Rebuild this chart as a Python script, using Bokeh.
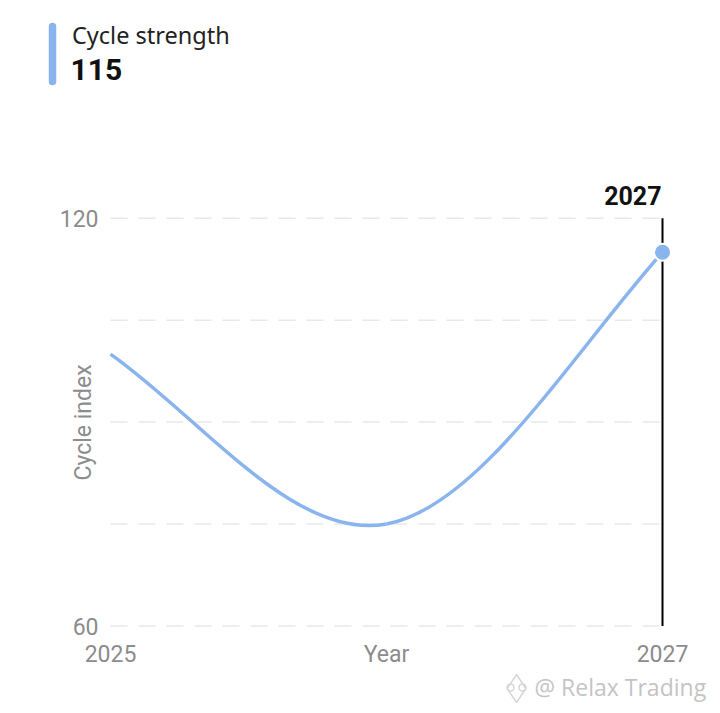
from bokeh.plotting import figure
from bokeh.models import Range1d, FixedTicker, Label
from bokeh.layouts import column
from bokeh.embed import file_html
from bokeh.resources import INLINE

# ---------------- data ----------------
years = [2025, 2026, 2027]
cycle = [100, 75, 115]
y_ticks = [60, 120]
grid_levels = [60, 75, 90, 105, 120]
header_title = "Cycle strength"
x_label = "Year"
y_label = "Cycle index"
watermark = "@ Relax Trading"

# ---------------- styles / layout (page px) ----------------
FONT = "Roboto"
BLUE = "#8AB4EE"
GRAY = "#8c8c8c"
W = 720
HEAD_H = 170                      # header figure: 0 .. 170
MAIN_TOP, MAIN_BOT = 170, 672     # main figure
FOOT_H = 41                       # footer figure: 672 .. 713
FRAME_L = 100
FRAME_T, FRAME_B = 210, 634       # main plot frame (page px)
X_FIRST_PX, X_LAST_PX = 110, 662  # page px of first / last year
Y_TOP_PX, Y_BOT_PX = 217.7, 625.5 # page px of 120 / 60

MAIN_H = MAIN_BOT - MAIN_TOP
kx = (years[-1] - years[0]) / (X_LAST_PX - X_FIRST_PX)
ky = (y_ticks[-1] - y_ticks[0]) / (Y_BOT_PX - Y_TOP_PX)
x_start = years[0] - (X_FIRST_PX - FRAME_L) * kx
x_end = x_start + (W - FRAME_L) * kx
y_end = y_ticks[-1] + (Y_TOP_PX - FRAME_T) * ky
y_start = y_ticks[0] - (FRAME_B - Y_BOT_PX) * ky


def px_fig(w, h):
    f = figure(width=w, height=h, output_backend="svg", toolbar_location=None,
               x_range=Range1d(0, w), y_range=Range1d(h, 0), min_border=0,
               x_axis_type=None, y_axis_type=None)
    f.outline_line_color = None
    f.xgrid.visible = False
    f.ygrid.visible = False
    f.frame_align = False
    return f


# ---------------- header ----------------
head = px_fig(W, HEAD_H)
head.segment(x0=[52], x1=[52], y0=[26], y1=[81], line_color=BLUE,
             line_width=7.5, line_cap="round")
head.add_layout(Label(x=71.5, y=34, text=header_title,
                      text_baseline="alphabetic", text_font="Noto Sans",
                      text_font_size="23.5px", text_color="#222222"))
head.add_layout(Label(x=70, y=69, text=str(cycle[-1]),
                      text_baseline="alphabetic", text_font=FONT,
                      text_font_size="30px", text_font_style="bold",
                      text_color="#111111"))

# ---------------- main chart ----------------
p = figure(width=W, height=MAIN_H, output_backend="svg", toolbar_location=None,
           x_range=Range1d(x_start, x_end), y_range=Range1d(y_start, y_end),
           min_border_left=FRAME_L, min_border_right=0,
           min_border_top=FRAME_T - MAIN_TOP,
           min_border_bottom=MAIN_BOT - FRAME_B)
p.frame_align = False
p.outline_line_color = None
p.background_fill_color = "white"
p.border_fill_color = "white"
p.xgrid.visible = False
p.ygrid.visible = False

# selected year shown above the hover line (as the plot title)
p.title.text = str(years[-1])
p.title.align = "right"
p.title.offset = W - (X_LAST_PX - 1)
p.title.standoff = 12
p.title.text_font = FONT
p.title.text_font_size = "25px"
p.title.text_font_style = "bold"
p.title.text_color = "#111111"

for ax in (p.xaxis[0], p.yaxis[0]):
    ax.axis_line_color = None
    ax.major_tick_line_color = None
    ax.minor_tick_line_color = None
    ax.major_tick_out = 0
    ax.major_tick_in = 0
    ax.major_label_text_font = FONT
    ax.major_label_text_font_size = "23px"
    ax.major_label_text_color = GRAY

p.xaxis.ticker = FixedTicker(ticks=years)
p.xaxis.major_label_overrides = {years[1]: x_label}
p.xaxis.major_label_standoff = 6

p.yaxis.ticker = FixedTicker(ticks=y_ticks)
p.yaxis.major_label_standoff = 2
p.yaxis.axis_label = y_label
p.yaxis.axis_label_text_font = FONT
p.yaxis.axis_label_text_font_size = "23px"
p.yaxis.axis_label_text_font_style = "normal"
p.yaxis.axis_label_text_color = GRAY
p.yaxis.axis_label_standoff = -40

# dashed gridlines
p.segment(x0=[years[0]] * len(grid_levels), x1=[years[-1]] * len(grid_levels),
          y0=grid_levels, y1=grid_levels, line_color="#e9e9e9",
          line_width=1.5, line_dash="17 11")

# smooth curve through the data (cubic bezier segments)
END_TENSION = 1.15
n = len(years)
m = []
for i in range(n):
    if i == 0:
        m.append(END_TENSION * (cycle[1] - cycle[0]) / (years[1] - years[0]))
    elif i == n - 1:
        m.append(END_TENSION * (cycle[-1] - cycle[-2]) / (years[-1] - years[-2]))
    else:
        m.append((cycle[i + 1] - cycle[i - 1]) / (years[i + 1] - years[i - 1]))
bx0, by0, bx1, by1, c0x, c0y, c1x, c1y = [], [], [], [], [], [], [], []
for i in range(n - 1):
    d = years[i + 1] - years[i]
    bx0.append(years[i]); by0.append(cycle[i])
    bx1.append(years[i + 1]); by1.append(cycle[i + 1])
    c0x.append(years[i] + d / 3); c0y.append(cycle[i] + m[i] * d / 3)
    c1x.append(years[i + 1] - d / 3); c1y.append(cycle[i + 1] - m[i + 1] * d / 3)
p.bezier(x0=bx0, y0=by0, x1=bx1, y1=by1, cx0=c0x, cy0=c0y, cx1=c1x, cy1=c1y,
         line_color=BLUE, line_width=3.5)

# hover indicator at the last point
p.segment(x0=[years[-1]], x1=[years[-1]], y0=[y_ticks[0]], y1=[y_ticks[-1]],
          line_color="black", line_width=2)
p.scatter(x=[years[-1]], y=[cycle[-1]], size=17, fill_color=BLUE,
          line_color="white", line_width=2)

# ---------------- footer (watermark) ----------------
foot = px_fig(W, FOOT_H)
foot.scatter(x=[516], y=[16], marker="diamond", size=28, fill_color=None,
             line_color="#d6d6d6", line_width=1.5)
foot.scatter(x=[510, 522], y=[15, 15], marker="circle", size=7,
             fill_color=None, line_color="#d6d6d6", line_width=1.5)
foot.add_layout(Label(x=534, y=14.5, text=watermark, text_baseline="alphabetic",
                      text_font="Open Sans", text_font_size="23px",
                      text_color="#c4c4c4"))

layout = column(head, p, foot, spacing=0)
open("out.html", "w").write(file_html(layout, INLINE))
